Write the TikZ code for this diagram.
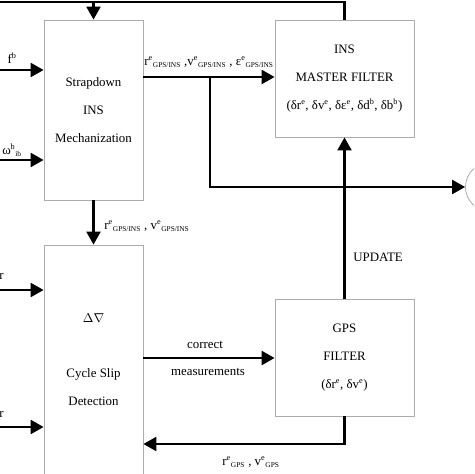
\documentclass[tikz,border=0pt]{standalone}
\usepackage{fontspec}
\setmainfont{Liberation Serif}
\usetikzlibrary{arrows.meta, positioning}

\newcommand{\supx}[1]{\textsuperscript{\fontsize{7}{8}\selectfont #1}}
\newcommand{\subx}[1]{\textsubscript{\fontsize{6.3}{7}\selectfont #1}}

\begin{document}
\begin{tikzpicture}[x=0.3mm, y=-0.3mm,
    blockbox/.style={draw=gray!65, line width=0.7pt, align=center, inner sep=0pt, font=\fontsize{11}{24}\selectfont},
    flow/.style={line width=2pt, -{Triangle[length=3.9mm, width=4.2mm]}},
    wire/.style={line width=2pt},
    lbl/.style={font=\fontsize{11}{13}\selectfont, inner sep=1pt}]
        \useasboundingbox (0,0) rectangle (474,474);
        \clip (0,0) rectangle (474,474);

        % Blocks
        \node[blockbox, minimum width=29.7mm, minimum height=54mm] (mech) at (93.5,110) {Strapdown\\INS\\Mechanization};
        \node[blockbox, minimum width=41.7mm, minimum height=35.1mm] (master) at (344.5,78.5) {INS\\MASTER FILTER\\(δr\supx{e}, δv\supx{e}, δε\supx{e}, δd\supx{b}, δb\supx{b})};
        \node[blockbox, minimum width=29.7mm, minimum height=69mm] (slip) at (93.5,360) {$\Delta\nabla$\\[23pt]Cycle Slip\\Detection};
        \node[blockbox, minimum width=41.7mm, minimum height=35.1mm] (gpsf) at (344.5,357.5) {GPS\\FILTER\\(δr\supx{e}, δv\supx{e})};
        \node[circle, draw=gray!65, line width=0.7pt, minimum size=14.7mm] (out) at (490,187) {};

        % Helper points
        \coordinate (fbk) at (-5,2);
        \coordinate (split) at (210,77);
        \coordinate (meas) at (0,358);
        \coordinate (back) at (0,444);
        \coordinate (fin) at (-5,70);
        \coordinate (win) at (-5,160);
        \coordinate (rin) at (-5,290);
        \coordinate (cin) at (-5,427);

        % Sensor inputs
        \draw[flow] (fin) -- (mech.west |- fin);
        \draw[flow] (win) -- (mech.west |- win);
        \draw[flow] (rin) -- (slip.west |- rin);
        \draw[flow] (cin) -- (slip.west |- cin);
        \node[lbl] (flbl) at (12,58) {f\supx{b}};
        \node[lbl] (wlbl) at (12,150) {ω\supx{b}\subx{ib}};
        \node[lbl, anchor=east] (rlbl) at (5,276) {r};
        \node[lbl, anchor=east] (clbl) at (5,414) {r};

        % Feedback from master filter
        \draw[wire] (master.north) |- (fbk);
        \draw[flow] (mech.north |- fbk) -- (mech.north);

        % Mechanization output
        \draw[flow] (mech.east |- split) -- (master.west |- split);
        \draw[flow] (split) |- (out.west);
        \node[lbl] (navlbl) at (209,62) {r\supx{e}\subx{GPS/INS} ,v\supx{e}\subx{GPS/INS} , ε\supx{e}\subx{GPS/INS}};
        \draw[flow] (mech.south) -- (slip.north);
        \node[lbl, anchor=west] (poslbl) at (103,226) {r\supx{e}\subx{GPS/INS} , v\supx{e}\subx{GPS/INS}};

        % GPS filter links
        \draw[flow] (slip.east |- meas) -- (gpsf.west |- meas);
        \node[lbl] (corlbl) at (205,345) {correct};
        \node[lbl] (measlbl) at (208,372) {measurements};
        \draw[flow] (gpsf.north) -- (master.south);
        \node[lbl, anchor=west] (updlbl) at (352,257) {UPDATE};
        \draw[flow] (gpsf.south) |- (slip.east |- back);
        \node[lbl] (gpslbl) at (251,462) {r\supx{e}\subx{GPS} , v\supx{e}\subx{GPS}};
\end{tikzpicture}
\end{document}
